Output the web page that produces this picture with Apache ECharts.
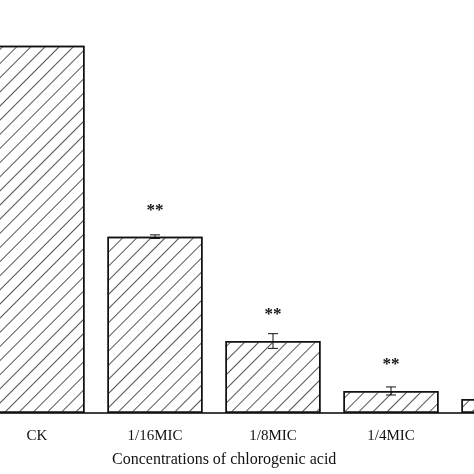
<!DOCTYPE html>
<html><head><meta charset="utf-8">
<script src="https://cdn.jsdelivr.net/npm/echarts@6/dist/echarts.min.js"></script>
<style>html,body{margin:0;padding:0;background:#fff;overflow:hidden;width:474px;height:474px}#c{width:590px;height:474px;margin-left:-22px}</style>
</head><body><div id="c"></div>
<script>
const categories = ['CK','1/16MIC','1/8MIC','1/4MIC','1/2MIC'];
const values = [100, 48, 19.6, 6, 3.8];
const errors = [0, 0.5, 2, 1.1, 0.6];
const marks = ['', '**', '**', '**', '**'];

const chart = echarts.init(document.getElementById('c'));
const font = 'Liberation Serif, Times New Roman, serif';
chart.setOption({
  animation:false,
  grid:{left:0, right:0, top:9, bottom:61},
  graphic:[{type:'text', left:259-125, top:452, style:{text:'Concentrations of chlorogenic acid', fill:'#111', font:'16px '+font}}],
  xAxis:[{
    type:'category', data:categories, boundaryGap:true,
    axisLine:{lineStyle:{color:'#000',width:1.5}},
    axisTick:{alignWithLabel:true, length:6, lineStyle:{color:'#000',width:1.5}},
    axisLabel:{color:'#111', fontFamily:font, fontSize:15, margin:16}
  },{
    type:'category', data:categories, position:'bottom', boundaryGap:true,
    axisLine:{show:false}, axisLabel:{show:false},
    axisTick:{length:3, lineStyle:{color:'#000',width:1.5}}
  }],
  yAxis:{type:'value', min:0, max:110, show:false},
  series:[{
    type:'bar', data:values, barWidth:95,
    itemStyle:{color:'#fff', borderColor:'#111', borderWidth:1.5,
      decal:{symbol:'rect', dashArrayX:[1,0], dashArrayY:[1,9], rotation:-Math.PI/4, color:'#555', symbolSize:1}}
  },{
    type:'custom', data:values.map((v,i)=>[i,v,errors[i]]),
    renderItem:function(params, api){
      const i=api.value(0), v=api.value(1), e=api.value(2);
      const top=api.coord([i,v+e]), bot=api.coord([i,v-e]), base=api.coord([i,v]);
      const mk = marks[i];
      const children=[];
      if(e>0){
        const w=5;
        children.push({type:'line',shape:{x1:top[0],y1:top[1],x2:bot[0],y2:bot[1]},style:{stroke:'#111',lineWidth:1}});
        children.push({type:'line',shape:{x1:top[0]-w,y1:top[1],x2:top[0]+w,y2:top[1]},style:{stroke:'#111',lineWidth:1}});
        children.push({type:'line',shape:{x1:bot[0]-w,y1:bot[1],x2:bot[0]+w,y2:bot[1]},style:{stroke:'#111',lineWidth:1}});
      }
      if(mk){
        children.push({type:'text',x:base[0],y:base[1]-26,style:{text:mk,fill:'#111',font:'bold 17px '+font,textAlign:'center',textVerticalAlign:'middle'}});
      }
      return {type:'group',children};
    }, z:5
  }]
});
</script></body></html>
